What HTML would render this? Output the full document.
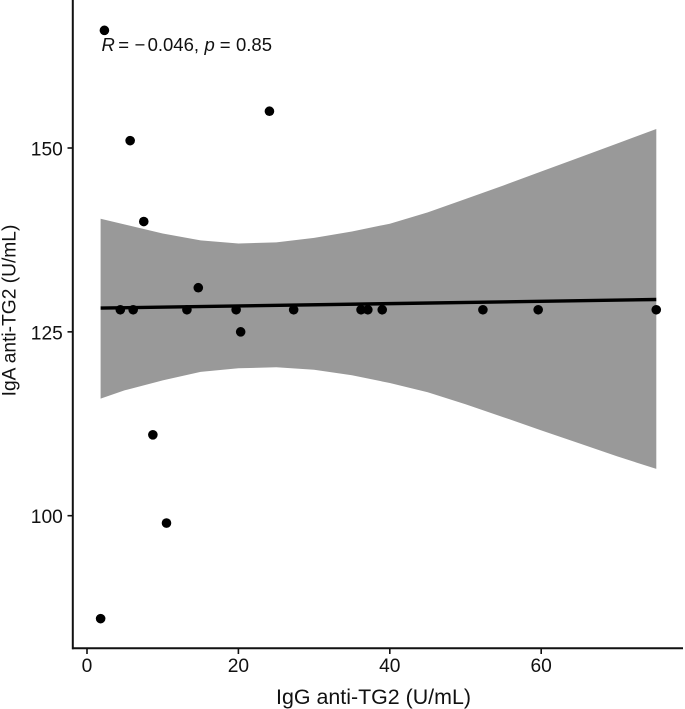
<!DOCTYPE html>
<html>
<head>
<meta charset="utf-8">
<style>
html,body{margin:0;padding:0;background:#fff;}
svg{display:block;}
text{font-family:"Liberation Sans",Arial,sans-serif;fill:#111;}
</style>
</head>
<body>
<svg id="chart" xmlns="http://www.w3.org/2000/svg" width="685" height="709" viewBox="0 0 685 709">
<g id="plot"></g>
<text x="373.5" y="704" text-anchor="middle" font-size="21.4">IgG anti-TG2 (U/mL)</text>
<text transform="translate(15.7,310.5) rotate(-90)" text-anchor="middle" font-size="19.2">IgA anti-TG2 (U/mL)</text>
<text y="51" font-size="18.5"><tspan x="101.5" font-style="italic">R</tspan><tspan x="118.3">=</tspan><tspan x="134.5">−</tspan><tspan x="147.6">0.046,</tspan><tspan x="204.5" font-style="italic">p</tspan><tspan x="219.7">=</tspan><tspan x="236">0.85</tspan></text>
</svg>
<script>
const pointsX = [2.3,5.7,24.1,7.5,14.7,4.4,6.1,13.2,19.7,27.3,36.2,37.1,39,52.3,59.6,75.2,20.3,8.7,10.5,1.8];
const pointsY = [166,151,155,140,131,128,128,128,128,128,128,128,128,128,128,128,125,111,99,86];
const bandX = [1.8,5,10,15,20,25,30,35,40,45,50,55,60,65,70,75.2];
const bandUpper = [140.38,139.6,138.38,137.43,137.02,137.16,137.77,138.65,139.7,141.24,143.07,144.9,146.8,148.7,150.6,152.58];
const bandLower = [115.92,117.05,118.4,119.56,120.04,120.18,119.84,119.09,118.04,116.8,115.15,113.4,111.6,109.85,108.08,106.36];
const lineX = [1.8,75.2];
const lineY = [128.23,129.4];
const xTicks = [0,20,40,60];
const yTicks = [100,125,150];

const NS = 'http://www.w3.org/2000/svg';
const plot = document.getElementById('plot');
const sx = v => 87 + v * 7.57;
const sy = v => 515.7 - (v - 100) * 7.354;
function mk(tag, attrs) {
  const el = document.createElementNS(NS, tag);
  for (const k in attrs) el.setAttribute(k, attrs[k]);
  plot.appendChild(el);
  return el;
}

const upperPts = bandX.map((x, i) => sx(x).toFixed(1) + ',' + sy(bandUpper[i]).toFixed(1));
const lowerPts = bandX.map((x, i) => sx(x).toFixed(1) + ',' + sy(bandLower[i]).toFixed(1)).reverse();
const band = mk('polygon', {points: upperPts.concat(lowerPts).join(' '), fill: '#999999'});



const fit = mk('line', {x1: sx(lineX[0]), y1: sy(lineY[0]), x2: sx(lineX[1]), y2: sy(lineY[1]), stroke: '#000', 'stroke-width': 3.4});



pointsX.forEach((x, i) => {
  const c = mk('circle', {cx: sx(x), cy: sy(pointsY[i]), r: 4.8, fill: '#000'});
  
  
});

const yAxis = mk('line', {x1: 72.8, y1: 0, x2: 72.8, y2: 649.3, stroke: '#111', 'stroke-width': 2});


const xAxis = mk('line', {x1: 72, y1: 648.3, x2: 683, y2: 648.3, stroke: '#111', 'stroke-width': 2});



xTicks.forEach(t => {
  const m = mk('line', {x1: sx(t), y1: 648, x2: sx(t), y2: 654, stroke: '#111', 'stroke-width': 1.6});
  
  
  const l = mk('text', {x: sx(t), y: 672, 'text-anchor': 'middle', 'font-size': 19.2});
  
  
  l.textContent = t;
});
yTicks.forEach(t => {
  const m = mk('line', {x1: 67.5, y1: sy(t), x2: 73, y2: sy(t), stroke: '#111', 'stroke-width': 1.6});
  
  
  const l = mk('text', {x: 62.8, y: sy(t) + 7.5, 'text-anchor': 'end', 'font-size': 19.2});
  
  
  l.textContent = t;
});
</script>
</body>
</html>
